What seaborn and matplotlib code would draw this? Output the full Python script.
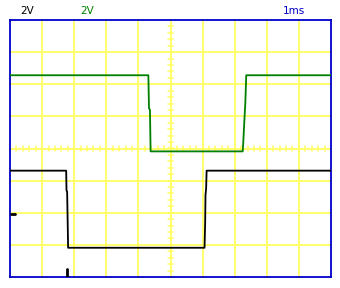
import matplotlib
matplotlib.use("Agg")
import matplotlib.pyplot as plt
import seaborn as sns
import numpy as np

# Data in screen divisions (x: 0..10 div, y: -4..4 div)
ch2_t = [0.0, 4.31, 4.33, 4.36, 4.38, 7.25, 7.27, 7.30, 7.33, 7.36, 10.0]
ch2_v = [2.28, 2.28, 1.25, 1.20, -0.09, -0.09, 0.25, 0.85, 1.40, 2.28, 2.28]
ch1_t = [0.0, 1.75, 1.76, 1.78, 1.80, 1.81, 6.06, 6.08, 6.09, 6.11, 6.125, 10.0]
ch1_v = [-0.69, -0.69, -1.30, -1.35, -2.50, -3.09, -3.09, -2.30, -1.45, -1.25, -0.69, -0.69]

sns.set_style("white")
fig = plt.figure(figsize=(3.4, 2.88), dpi=100)
ax = fig.add_axes([10/340, 11/288, 321/340, 257/288])

grid_col = "#ffff60"
for gx in range(1, 10):
    ax.axvline(gx, color=grid_col, lw=1.3, zorder=1)
for gy in range(-3, 4):
    ax.axhline(gy, color=grid_col, lw=1.3, zorder=1)
for k in np.arange(0.2, 10, 0.2):
    ax.plot([k, k], [-0.09, 0.09], color=grid_col, lw=1.1, zorder=1)
for k in np.arange(-3.8, 4, 0.2):
    ax.plot([4.91, 5.09], [k, k], color=grid_col, lw=1.1, zorder=1)

sns.lineplot(x=ch2_t, y=ch2_v, sort=False, estimator=None, color="#008000", lw=1.3, ax=ax, zorder=3)
sns.lineplot(x=ch1_t, y=ch1_v, sort=False, estimator=None, color="black", lw=1.3, ax=ax, zorder=3)

# channel / trigger markers
ax.plot([0.03, 0.15], [-2.04, -2.04], color="black", lw=2, zorder=4)
ax.plot([1.78, 1.78], [-3.75, -4], color="black", lw=2, zorder=4)

ax.set_xlim(0, 10)
ax.set_ylim(-4, 4)
ax.set_xticks([])
ax.set_yticks([])
for s in ax.spines.values():
    s.set_color("#0000c8")
    s.set_linewidth(1.3)
    s.set_visible(True)

fig.text(20/340, 1 - 11/288, "2V", color="black", fontsize=7.5, va="center", ha="left")
fig.text(80/340, 1 - 11/288, "2V", color="#008000", fontsize=7.5, va="center", ha="left")
fig.text(283/340, 1 - 11/288, "1ms", color="#0000c8", fontsize=7.5, va="center", ha="left")

fig.savefig("out.png", dpi=100, facecolor="white")
